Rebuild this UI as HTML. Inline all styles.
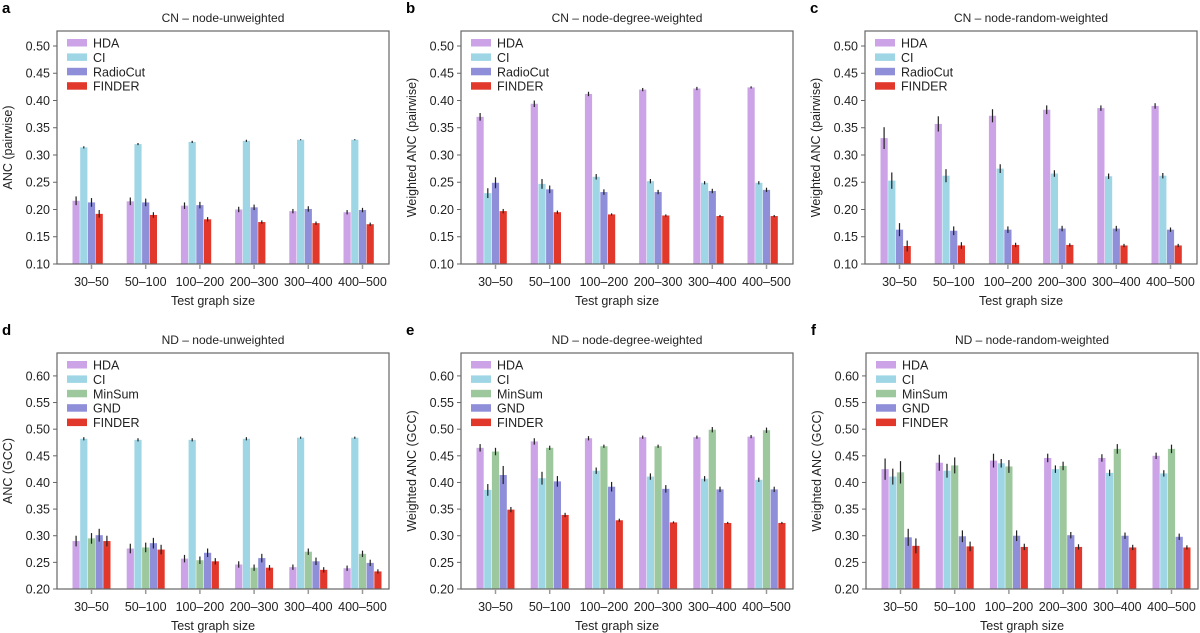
<!DOCTYPE html>
<html><head><meta charset="utf-8"><style>
body{margin:0;background:#fff;}
svg{display:block;font-family:"Liberation Sans",Arial,sans-serif;}
</style></head><body>
<svg id="fig" width="1200" height="633" viewBox="0 0 1200 633"></svg>
<script>
const categories = ["30–50","50–100","100–200","200–300","300–400","400–500"];
const seriesCN = ["HDA","CI","RadioCut","FINDER"];
const seriesND = ["HDA","CI","MinSum","GND","FINDER"];
const ticksCN = [0.10,0.15,0.20,0.25,0.30,0.35,0.40,0.45,0.50];
const ticksND = [0.20,0.25,0.30,0.35,0.40,0.45,0.50,0.55,0.60];

// panel a
const aHDA=[.216,.215,.207,.200,.197,.195], aCI=[.314,.320,.324,.326,.328,.328], aRC=[.213,.213,.208,.204,.201,.199], aF=[.192,.190,.182,.177,.175,.173];
const aErr=[[.008,.007,.006,.005,.004,.004],[.002,.002,.002,.002,.001,.001],[.008,.007,.006,.005,.005,.004],[.007,.005,.004,.003,.003,.003]];
// panel b
const bHDA=[.370,.394,.412,.420,.422,.424], bCI=[.230,.247,.260,.252,.249,.249], bRC=[.249,.237,.232,.232,.234,.236], bF=[.197,.195,.191,.189,.188,.188];
const bErr=[[.007,.006,.004,.003,.003,.002],[.009,.009,.005,.004,.003,.003],[.010,.007,.005,.004,.004,.004],[.004,.003,.002,.002,.002,.002]];
// panel c
const cHDA=[.331,.357,.372,.383,.386,.390], cCI=[.253,.262,.275,.266,.261,.262], cRC=[.163,.161,.163,.165,.165,.163], cF=[.133,.134,.135,.135,.134,.134];
const cErr=[[.020,.014,.012,.008,.005,.005],[.015,.012,.008,.006,.005,.005],[.012,.008,.006,.005,.005,.004],[.010,.006,.004,.003,.003,.003]];
// panel d
const dHDA=[.290,.276,.257,.246,.241,.239], dCI=[.482,.480,.480,.482,.484,.484], dMS=[.295,.278,.254,.240,.270,.266], dGND=[.301,.286,.268,.258,.252,.249], dF=[.290,.274,.252,.240,.236,.233];
const dErr=[[.010,.009,.007,.006,.005,.005],[.003,.003,.003,.003,.002,.002],[.010,.009,.007,.006,.006,.006],[.012,.010,.008,.008,.007,.006],[.010,.009,.006,.005,.005,.004]];
// panel e
const eHDA=[.465,.477,.483,.485,.485,.486], eCI=[.386,.408,.422,.411,.407,.405], eMS=[.458,.465,.468,.468,.499,.498], eGND=[.414,.402,.392,.388,.387,.387], eF=[.349,.339,.329,.325,.324,.324];
const eErr=[[.007,.006,.004,.003,.003,.003],[.011,.012,.006,.006,.005,.004],[.007,.004,.003,.003,.005,.005],[.017,.010,.009,.007,.005,.005],[.005,.004,.003,.002,.002,.002]];
// panel f
const fHDA=[.425,.437,.441,.446,.446,.450], fCI=[.411,.422,.436,.425,.418,.417], fMS=[.419,.432,.430,.431,.463,.463], fGND=[.297,.299,.300,.301,.300,.298], fF=[.281,.280,.279,.279,.278,.278];
const fErr=[[.020,.015,.013,.008,.007,.006],[.015,.013,.008,.007,.006,.006],[.021,.015,.012,.008,.009,.008],[.016,.011,.010,.006,.006,.006],[.014,.009,.006,.005,.005,.004]];

const colors={HDA:"#cba3e6",CI:"#9fd6e6",RadioCut:"#8e8fd8",GND:"#8e8fd8",MinSum:"#9dc79d",FINDER:"#e2382b"};
const NS="http://www.w3.org/2000/svg";
const svg=document.getElementById('fig');
function mk(tag,attrs,parent,text){const e=document.createElementNS(NS,tag);for(const k in attrs)e.setAttribute(k,attrs[k]);if(text!==undefined)e.textContent=text;(parent||svg).appendChild(e);return e;}

const panels=[
 {id:"a",title:"CN – node-unweighted",ylab:"ANC (pairwise)",L:57,T:31,B:264,ymin:0.10,ymax:0.5275,ticks:ticksCN,series:seriesCN,vals:[aHDA,aCI,aRC,aF],err:aErr},
 {id:"b",title:"CN – node-degree-weighted",ylab:"Weighted ANC (pairwise)",L:461,T:31,B:264,ymin:0.10,ymax:0.5275,ticks:ticksCN,series:seriesCN,vals:[bHDA,bCI,bRC,bF],err:bErr},
 {id:"c",title:"CN – node-random-weighted",ylab:"Weighted ANC (pairwise)",L:865,T:31,B:264,ymin:0.10,ymax:0.5275,ticks:ticksCN,series:seriesCN,vals:[cHDA,cCI,cRC,cF],err:cErr},
 {id:"d",title:"ND – node-unweighted",ylab:"ANC (GCC)",L:57,T:353,B:589,ymin:0.20,ymax:0.643,ticks:ticksND,series:seriesND,vals:[dHDA,dCI,dMS,dGND,dF],err:dErr},
 {id:"e",title:"ND – node-degree-weighted",ylab:"Weighted ANC (GCC)",L:461,T:353,B:589,ymin:0.20,ymax:0.643,ticks:ticksND,series:seriesND,vals:[eHDA,eCI,eMS,eGND,eF],err:eErr},
 {id:"f",title:"ND – node-random-weighted",ylab:"Weighted ANC (GCC)",L:866,T:353,B:589,ymin:0.20,ymax:0.643,ticks:ticksND,series:seriesND,vals:[fHDA,fCI,fMS,fGND,fF],err:fErr}
];
const W=332, pitch=7.7, bw=7.2;

panels.forEach(p=>{
 const g=mk('g',{});
 
 
 const R=p.L+W;
 const y=v=>p.B-(v-p.ymin)/(p.ymax-p.ymin)*(p.B-p.T);
 const xc=i=>p.L+34.5+i*54.2;
 const lt=mk('text',{x:p.L-55,y:p.T-18,'font-size':15,'font-weight':'bold',fill:'#000'},g,p.id);
 
 
 const tt=mk('text',{x:p.L+W/2,y:p.T-9,'font-size':12,'text-anchor':'middle',fill:'#222'},g,p.title);
 
 
 // bars
 p.vals.forEach((arr,s)=>{
  arr.forEach((v,i)=>{
   const x0=xc(i)-2.5*pitch+s*pitch+(pitch-bw)/2;
   const r=mk('rect',{x:x0,y:y(v),width:bw,height:p.B-y(v),fill:colors[p.series[s]]},g);
   
   
   const e=p.err[s][i];
   const eb=mk('line',{x1:x0+bw/2,x2:x0+bw/2,y1:y(v+e),y2:y(v-e),stroke:'#222','stroke-width':1.2},g);
   
   
  });
 });
 // frame
 const fr=mk('rect',{x:p.L,y:p.T,width:W,height:p.B-p.T,fill:'none',stroke:'#666','stroke-width':1.2},g);
 
 
 // y ticks
 p.ticks.forEach(t=>{
  mk('line',{x1:p.L-4,x2:p.L,y1:y(t),y2:y(t),stroke:'#666','stroke-width':1},g);
  const tl=mk('text',{x:p.L-7,y:y(t)+4.5,'font-size':12.5,'text-anchor':'end',fill:'#222'},g,t.toFixed(2));
  
  
 });
 categories.forEach((c,i)=>{
  mk('line',{x1:xc(i),x2:xc(i),y1:p.B,y2:p.B+5,stroke:'#999','stroke-width':1.5},g);
  const xl=mk('text',{x:xc(i),y:p.B+22,'font-size':12.5,'text-anchor':'middle',fill:'#222'},g,c);
  
  
 });
 const xt=mk('text',{x:p.L+W/2-10,y:p.B+41,'font-size':12.5,'text-anchor':'middle',fill:'#222'},g,'Test graph size');
 
 
 const ym=(p.T+p.B)/2, yx=p.L-45;
 const yt=mk('text',{x:yx,y:ym,'font-size':12.5,'text-anchor':'middle',fill:'#222',transform:`rotate(-90 ${yx} ${ym})`},g,p.ylab);
 
 
 // legend
 const ly0=p.T+12, lsp=14.4;
 p.series.forEach((s,k)=>{
  const lg=mk('g',{},g);
  
  
  mk('rect',{x:p.L+10,y:ly0+k*lsp-4,width:20,height:7.5,fill:colors[s]},lg);
  mk('text',{x:p.L+36,y:ly0+k*lsp+4.5,'font-size':12.5,fill:'#222'},lg,s);
 });
});
</script>
</body></html>
